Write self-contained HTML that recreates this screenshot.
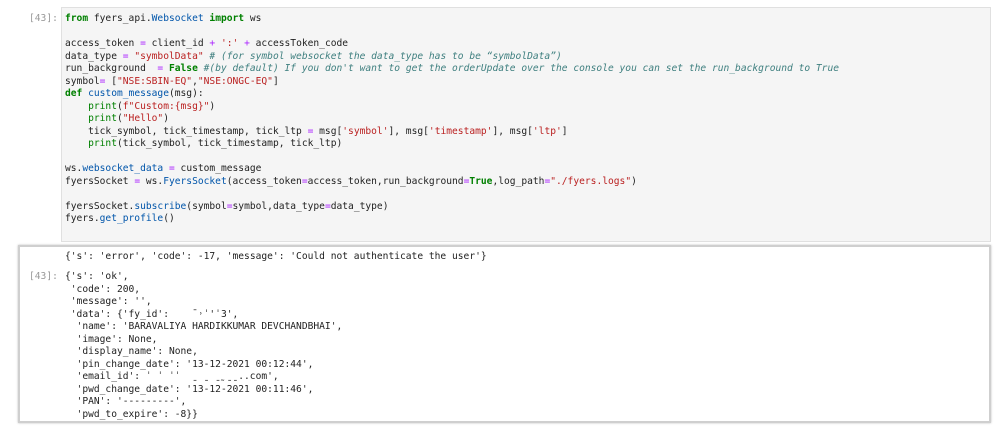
<!DOCTYPE html>
<html><head><meta charset="utf-8"><style>
body{margin:0;width:1000px;height:429px;background:#fff;position:relative;overflow:hidden;font-family:"DejaVu Sans Mono",monospace;}
pre{margin:0;font-family:"DejaVu Sans Mono","Liberation Mono",monospace;font-size:9.6px;line-height:12.5px;color:#222;position:absolute;}
.box{position:absolute;left:61px;top:7px;width:928px;height:233px;background:#f5f5f5;border:1px solid #e0e0e0;}
.out{position:absolute;left:18px;top:245px;width:969px;height:174px;background:#fff;border:2px solid #cfcfcf;box-shadow:0 0 2px #bbb;}
.p{color:#999;}
.k{color:#008000;font-weight:bold}
.f{color:#0055aa}
.s{color:#ba2121}
.c{color:#408080;font-style:italic}
.o{color:#aa22ff}
</style></head><body>
<div class="box"></div>
<div class="out"></div>
<pre class="p" style="left:29px;top:13px">[43]:</pre>
<pre style="left:65px;top:13px"><span class="k">from</span> fyers_api.<span class="f">Websocket</span> <span class="k">import</span> ws

access_token <span class="o">=</span> client_id <span class="o">+</span> <span class="s">':'</span> <span class="o">+</span> accessToken_code
data_type <span class="o">=</span> <span class="s">"symbolData"</span> <span class="c"># (for symbol websocket the data_type has to be “symbolData”)</span>
run_background  <span class="o">=</span> <span class="k">False</span> <span class="c">#(by default) If you don't want to get the orderUpdate over the console you can set the run_background to True</span>
symbol<span class="o">=</span> [<span class="s">"NSE:SBIN-EQ"</span>,<span class="s">"NSE:ONGC-EQ"</span>]
<span class="k">def</span> <span class="f">custom_message</span>(msg):
    <span class="k" style="font-weight:normal">print</span>(<span class="s">f"Custom:{msg}"</span>)
    <span class="k" style="font-weight:normal">print</span>(<span class="s">"Hello"</span>)
    tick_symbol, tick_timestamp, tick_ltp <span class="o">=</span> msg[<span class="s">'symbol'</span>], msg[<span class="s">'timestamp'</span>], msg[<span class="s">'ltp'</span>]
    <span class="k" style="font-weight:normal">print</span>(tick_symbol, tick_timestamp, tick_ltp)

ws.<span class="f">websocket_data</span> <span class="o">=</span> custom_message
fyersSocket <span class="o">=</span> ws.<span class="f">FyersSocket</span>(access_token<span class="o">=</span>access_token,run_background<span class="o">=</span><span class="k">True</span>,log_path<span class="o">=</span><span class="s">"./fyers.logs"</span>)

fyersSocket.<span class="f">subscribe</span>(symbol<span class="o">=</span>symbol,data_type<span class="o">=</span>data_type)
fyers.<span class="f">get_profile</span>()</pre>
<pre style="left:65px;top:251px">{'s': 'error', 'code': -17, 'message': 'Could not authenticate the user'}</pre>
<pre class="p" style="left:29px;top:271px">[43]:</pre>
<pre style="left:65px;top:271px">{'s': 'ok',
 'code': 200,
 'message': '',
 'data': {'fy_id':    ˉ˒ˈ'ˈ3',
  'name': 'BARAVALIYA HARDIKKUMAR DEVCHANDBHAI',
  'image': None,
  'display_name': None,
  'pin_change_date': '13-12-2021 00:12:44',
  'email_id': ˈ ˈ ˈˈ  ˍ ˍ ˍ˷ˍˍ..com',
  'pwd_change_date': '13-12-2021 00:11:46',
  'PAN': '---------',
  'pwd_to_expire': -8}}</pre>
</body></html>
